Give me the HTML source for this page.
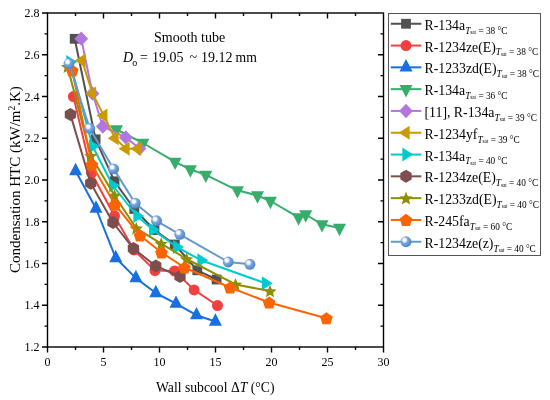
<!DOCTYPE html>
<html><head><meta charset="utf-8"><style>
html,body{margin:0;padding:0;background:#fff;}
svg{display:block;will-change:transform;}
text{font-family:"Liberation Serif",serif;fill:#000;}
</style></head><body>
<svg width="550" height="400" viewBox="0 0 550 400">
<defs>
<radialGradient id="ball" cx="0.38" cy="0.36" r="0.7" fx="0.36" fy="0.34">
<stop offset="0" stop-color="#ffffff"/>
<stop offset="0.22" stop-color="#f2f6fc"/>
<stop offset="0.42" stop-color="#7ea9dd"/>
<stop offset="0.7" stop-color="#5f93d2"/>
<stop offset="1" stop-color="#4a7fc2"/>
</radialGradient>
<clipPath id="pc"><rect x="47.5" y="13" width="336" height="334"/></clipPath>
</defs>
<rect width="550" height="400" fill="#fff"/>

<polyline points="74.70,38.80 95.60,139.30 114.50,181.30 134.30,209.00 154.40,230.00 174.80,244.50 197.30,270.30 216.60,279.50" fill="none" stroke="#515151" stroke-width="2" stroke-linejoin="round"/>
<rect x="69.80" y="33.90" width="9.8" height="9.8" fill="#515151"/><rect x="90.70" y="134.40" width="9.8" height="9.8" fill="#515151"/><rect x="109.60" y="176.40" width="9.8" height="9.8" fill="#515151"/><rect x="129.40" y="204.10" width="9.8" height="9.8" fill="#515151"/><rect x="149.50" y="225.10" width="9.8" height="9.8" fill="#515151"/><rect x="169.90" y="239.60" width="9.8" height="9.8" fill="#515151"/><rect x="192.40" y="265.40" width="9.8" height="9.8" fill="#515151"/><rect x="211.70" y="274.60" width="9.8" height="9.8" fill="#515151"/>
<polyline points="73.40,96.60 91.60,173.20 114.50,216.00 134.00,250.00 155.00,270.60 174.60,271.00 194.10,289.90 217.50,305.50" fill="none" stroke="#F14040" stroke-width="2" stroke-linejoin="round"/>
<circle cx="73.40" cy="96.60" r="5.5" fill="#F14040"/><circle cx="91.60" cy="173.20" r="5.5" fill="#F14040"/><circle cx="114.50" cy="216.00" r="5.5" fill="#F14040"/><circle cx="134.00" cy="250.00" r="5.5" fill="#F14040"/><circle cx="155.00" cy="270.60" r="5.5" fill="#F14040"/><circle cx="174.60" cy="271.00" r="5.5" fill="#F14040"/><circle cx="194.10" cy="289.90" r="5.5" fill="#F14040"/><circle cx="217.50" cy="305.50" r="5.5" fill="#F14040"/>
<polyline points="75.60,171.00 96.00,208.50 115.75,258.00 135.90,278.10 155.80,293.00 176.00,303.70 196.50,315.20 215.40,321.50" fill="none" stroke="#1A6FDF" stroke-width="2" stroke-linejoin="round"/>
<polygon points="75.60,162.70 82.10,175.15 69.10,175.15" fill="#1A6FDF"/><polygon points="96.00,200.20 102.50,212.65 89.50,212.65" fill="#1A6FDF"/><polygon points="115.75,249.70 122.25,262.15 109.25,262.15" fill="#1A6FDF"/><polygon points="135.90,269.80 142.40,282.25 129.40,282.25" fill="#1A6FDF"/><polygon points="155.80,284.70 162.30,297.15 149.30,297.15" fill="#1A6FDF"/><polygon points="176.00,295.40 182.50,307.85 169.50,307.85" fill="#1A6FDF"/><polygon points="196.50,306.90 203.00,319.35 190.00,319.35" fill="#1A6FDF"/><polygon points="215.40,313.20 221.90,325.65 208.90,325.65" fill="#1A6FDF"/>
<polyline points="116.50,129.50 142.90,143.00 175.10,161.80 190.40,169.50 205.80,174.80 237.40,190.30 257.50,195.50 270.40,201.00 298.60,217.40 305.70,214.50 322.00,224.30 339.50,228.00" fill="none" stroke="#37AD6B" stroke-width="2" stroke-linejoin="round"/>
<polygon points="116.50,137.80 123.00,125.35 110.00,125.35" fill="#37AD6B"/><polygon points="142.90,151.30 149.40,138.85 136.40,138.85" fill="#37AD6B"/><polygon points="175.10,170.10 181.60,157.65 168.60,157.65" fill="#37AD6B"/><polygon points="190.40,177.80 196.90,165.35 183.90,165.35" fill="#37AD6B"/><polygon points="205.80,183.10 212.30,170.65 199.30,170.65" fill="#37AD6B"/><polygon points="237.40,198.60 243.90,186.15 230.90,186.15" fill="#37AD6B"/><polygon points="257.50,203.80 264.00,191.35 251.00,191.35" fill="#37AD6B"/><polygon points="270.40,209.30 276.90,196.85 263.90,196.85" fill="#37AD6B"/><polygon points="298.60,225.70 305.10,213.25 292.10,213.25" fill="#37AD6B"/><polygon points="305.70,222.80 312.20,210.35 299.20,210.35" fill="#37AD6B"/><polygon points="322.00,232.60 328.50,220.15 315.50,220.15" fill="#37AD6B"/><polygon points="339.50,236.30 346.00,223.85 333.00,223.85" fill="#37AD6B"/>
<polyline points="81.25,38.65 92.50,93.50 102.80,126.50 125.80,137.40 139.50,148.50" fill="none" stroke="#B177DE" stroke-width="2" stroke-linejoin="round"/>
<polygon points="81.25,31.45 88.15,38.65 81.25,45.85 74.35,38.65" fill="#B177DE"/><polygon points="92.50,86.30 99.40,93.50 92.50,100.70 85.60,93.50" fill="#B177DE"/><polygon points="102.80,119.30 109.70,126.50 102.80,133.70 95.90,126.50" fill="#B177DE"/><polygon points="125.80,130.20 132.70,137.40 125.80,144.60 118.90,137.40" fill="#B177DE"/><polygon points="139.50,141.30 146.40,148.50 139.50,155.70 132.60,148.50" fill="#B177DE"/>
<polyline points="82.00,60.50 92.50,93.40 103.80,115.60 115.00,138.30 126.00,148.70 137.60,148.70" fill="none" stroke="#CC9900" stroke-width="2" stroke-linejoin="round"/>
<polygon points="74.70,60.50 85.65,53.50 85.65,67.50" fill="#CC9900"/><polygon points="85.20,93.40 96.15,86.40 96.15,100.40" fill="#CC9900"/><polygon points="96.50,115.60 107.45,108.60 107.45,122.60" fill="#CC9900"/><polygon points="107.70,138.30 118.65,131.30 118.65,145.30" fill="#CC9900"/><polygon points="118.70,148.70 129.65,141.70 129.65,155.70" fill="#CC9900"/><polygon points="130.30,148.70 141.25,141.70 141.25,155.70" fill="#CC9900"/>
<polyline points="69.90,62.00 92.60,146.20 112.75,185.50 137.00,216.00 152.75,229.80 176.75,247.00 201.00,260.20 265.50,283.30" fill="none" stroke="#00CBCC" stroke-width="2" stroke-linejoin="round"/>
<polygon points="77.20,62.00 66.25,55.00 66.25,69.00" fill="#00CBCC"/><polygon points="99.90,146.20 88.95,139.20 88.95,153.20" fill="#00CBCC"/><polygon points="120.05,185.50 109.10,178.50 109.10,192.50" fill="#00CBCC"/><polygon points="144.30,216.00 133.35,209.00 133.35,223.00" fill="#00CBCC"/><polygon points="160.05,229.80 149.10,222.80 149.10,236.80" fill="#00CBCC"/><polygon points="184.05,247.00 173.10,240.00 173.10,254.00" fill="#00CBCC"/><polygon points="208.30,260.20 197.35,253.20 197.35,267.20" fill="#00CBCC"/><polygon points="272.80,283.30 261.85,276.30 261.85,290.30" fill="#00CBCC"/>
<polyline points="70.40,114.40 90.75,183.30 113.00,222.50 133.40,248.60 155.80,266.00 180.00,276.50" fill="none" stroke="#7D4E4E" stroke-width="2" stroke-linejoin="round"/>
<polygon points="70.40,107.90 76.03,111.15 76.03,117.65 70.40,120.90 64.77,117.65 64.77,111.15" fill="#7D4E4E"/><polygon points="90.75,176.80 96.38,180.05 96.38,186.55 90.75,189.80 85.12,186.55 85.12,180.05" fill="#7D4E4E"/><polygon points="113.00,216.00 118.63,219.25 118.63,225.75 113.00,229.00 107.37,225.75 107.37,219.25" fill="#7D4E4E"/><polygon points="133.40,242.10 139.03,245.35 139.03,251.85 133.40,255.10 127.77,251.85 127.77,245.35" fill="#7D4E4E"/><polygon points="155.80,259.50 161.43,262.75 161.43,269.25 155.80,272.50 150.17,269.25 150.17,262.75" fill="#7D4E4E"/><polygon points="180.00,270.00 185.63,273.25 185.63,279.75 180.00,283.00 174.37,279.75 174.37,273.25" fill="#7D4E4E"/>
<polyline points="67.60,66.80 90.75,155.70 114.50,195.50 136.25,228.30 161.20,243.60 186.60,259.00 235.50,284.40 270.00,291.10" fill="none" stroke="#8E8E00" stroke-width="2" stroke-linejoin="round"/>
<polygon points="67.60,60.40 69.45,64.85 74.26,65.24 70.60,68.37 71.71,73.06 67.60,70.55 63.49,73.06 64.60,68.37 60.94,65.24 65.75,64.85" fill="#8E8E00"/><polygon points="90.75,149.30 92.60,153.75 97.41,154.14 93.75,157.27 94.86,161.96 90.75,159.45 86.64,161.96 87.75,157.27 84.09,154.14 88.90,153.75" fill="#8E8E00"/><polygon points="114.50,189.10 116.35,193.55 121.16,193.94 117.50,197.07 118.61,201.76 114.50,199.25 110.39,201.76 111.50,197.07 107.84,193.94 112.65,193.55" fill="#8E8E00"/><polygon points="136.25,221.90 138.10,226.35 142.91,226.74 139.25,229.87 140.36,234.56 136.25,232.05 132.14,234.56 133.25,229.87 129.59,226.74 134.40,226.35" fill="#8E8E00"/><polygon points="161.20,237.20 163.05,241.65 167.86,242.04 164.20,245.17 165.31,249.86 161.20,247.35 157.09,249.86 158.20,245.17 154.54,242.04 159.35,241.65" fill="#8E8E00"/><polygon points="186.60,252.60 188.45,257.05 193.26,257.44 189.60,260.57 190.71,265.26 186.60,262.75 182.49,265.26 183.60,260.57 179.94,257.44 184.75,257.05" fill="#8E8E00"/><polygon points="235.50,278.00 237.35,282.45 242.16,282.84 238.50,285.97 239.61,290.66 235.50,288.15 231.39,290.66 232.50,285.97 228.84,282.84 233.65,282.45" fill="#8E8E00"/><polygon points="270.00,284.70 271.85,289.15 276.66,289.54 273.00,292.67 274.11,297.36 270.00,294.85 265.89,297.36 267.00,292.67 263.34,289.54 268.15,289.15" fill="#8E8E00"/>
<polyline points="72.20,70.50 91.90,164.70 115.00,204.70 140.00,235.50 161.50,252.50 184.50,267.50 230.10,287.50 269.10,302.50 326.40,318.30" fill="none" stroke="#FB6501" stroke-width="2" stroke-linejoin="round"/>
<polygon points="72.20,64.40 78.57,69.03 76.14,76.52 68.26,76.52 65.83,69.03" fill="#FB6501"/><polygon points="91.90,158.60 98.27,163.23 95.84,170.72 87.96,170.72 85.53,163.23" fill="#FB6501"/><polygon points="115.00,198.60 121.37,203.23 118.94,210.72 111.06,210.72 108.63,203.23" fill="#FB6501"/><polygon points="140.00,229.40 146.37,234.03 143.94,241.52 136.06,241.52 133.63,234.03" fill="#FB6501"/><polygon points="161.50,246.40 167.87,251.03 165.44,258.52 157.56,258.52 155.13,251.03" fill="#FB6501"/><polygon points="184.50,261.40 190.87,266.03 188.44,273.52 180.56,273.52 178.13,266.03" fill="#FB6501"/><polygon points="230.10,281.40 236.47,286.03 234.04,293.52 226.16,293.52 223.73,286.03" fill="#FB6501"/><polygon points="269.10,296.40 275.47,301.03 273.04,308.52 265.16,308.52 262.73,301.03" fill="#FB6501"/><polygon points="326.40,312.20 332.77,316.83 330.34,324.32 322.46,324.32 320.03,316.83" fill="#FB6501"/>
<polyline points="69.00,63.50 89.65,128.40 113.60,168.90 135.20,203.20 156.50,220.80 179.75,234.30 228.20,262.00 249.90,264.30" fill="none" stroke="#6699CC" stroke-width="2" stroke-linejoin="round"/>
<circle cx="69.00" cy="63.50" r="5.45" fill="url(#ball)"/><circle cx="89.65" cy="128.40" r="5.45" fill="url(#ball)"/><circle cx="113.60" cy="168.90" r="5.45" fill="url(#ball)"/><circle cx="135.20" cy="203.20" r="5.45" fill="url(#ball)"/><circle cx="156.50" cy="220.80" r="5.45" fill="url(#ball)"/><circle cx="179.75" cy="234.30" r="5.45" fill="url(#ball)"/><circle cx="228.20" cy="262.00" r="5.45" fill="url(#ball)"/><circle cx="249.90" cy="264.30" r="5.45" fill="url(#ball)"/>
<rect x="47.5" y="13" width="336.0" height="334" fill="none" stroke="#000" stroke-width="1.4"/>
<path d="M47.50,347v5.5M75.50,347v3M75.50,13v3M103.50,347v5.5M103.50,13v5.5M131.50,347v3M131.50,13v3M159.50,347v5.5M159.50,13v5.5M187.50,347v3M187.50,13v3M215.50,347v5.5M215.50,13v5.5M243.50,347v3M243.50,13v3M271.50,347v5.5M271.50,13v5.5M299.50,347v3M299.50,13v3M327.50,347v5.5M327.50,13v5.5M355.50,347v3M355.50,13v3M383.50,347v5.5M47.5,347.00h-5.5M47.5,326.12h-3M383.5,326.12h-3M47.5,305.25h-5.5M383.5,305.25h-5.5M47.5,284.38h-3M383.5,284.38h-3M47.5,263.50h-5.5M383.5,263.50h-5.5M47.5,242.62h-3M383.5,242.62h-3M47.5,221.75h-5.5M383.5,221.75h-5.5M47.5,200.88h-3M383.5,200.88h-3M47.5,180.00h-5.5M383.5,180.00h-5.5M47.5,159.12h-3M383.5,159.12h-3M47.5,138.25h-5.5M383.5,138.25h-5.5M47.5,117.38h-3M383.5,117.38h-3M47.5,96.50h-5.5M383.5,96.50h-5.5M47.5,75.62h-3M383.5,75.62h-3M47.5,54.75h-5.5M383.5,54.75h-5.5M47.5,33.88h-3M383.5,33.88h-3M47.5,13.00h-5.5" stroke="#000" stroke-width="1.4" fill="none"/>
<text x="47.50" y="366" font-size="12" text-anchor="middle">0</text>
<text x="103.50" y="366" font-size="12" text-anchor="middle">5</text>
<text x="159.50" y="366" font-size="12" text-anchor="middle">10</text>
<text x="215.50" y="366" font-size="12" text-anchor="middle">15</text>
<text x="271.50" y="366" font-size="12" text-anchor="middle">20</text>
<text x="327.50" y="366" font-size="12" text-anchor="middle">25</text>
<text x="383.50" y="366" font-size="12" text-anchor="middle">30</text>
<text x="39.5" y="351.20" font-size="12" text-anchor="end">1.2</text>
<text x="39.5" y="309.45" font-size="12" text-anchor="end">1.4</text>
<text x="39.5" y="267.70" font-size="12" text-anchor="end">1.6</text>
<text x="39.5" y="225.95" font-size="12" text-anchor="end">1.8</text>
<text x="39.5" y="184.20" font-size="12" text-anchor="end">2.0</text>
<text x="39.5" y="142.45" font-size="12" text-anchor="end">2.2</text>
<text x="39.5" y="100.70" font-size="12" text-anchor="end">2.4</text>
<text x="39.5" y="58.95" font-size="12" text-anchor="end">2.6</text>
<text x="39.5" y="17.20" font-size="12" text-anchor="end">2.8</text>
<text x="156" y="392" font-size="13.7">Wall subcool &#916;<tspan font-style="italic">T</tspan> (&#176;C)</text>
<text transform="translate(20.3,273) rotate(-90)" font-size="15">Condensation HTC (kW/m<tspan font-size="9.5" dy="-5.5">2</tspan><tspan dy="5.5">.K)</tspan></text>
<text x="154" y="41.5" font-size="14">Smooth tube</text>
<text x="123" y="62" font-size="14" font-style="italic">D</text><text x="132.3" y="66.3" font-size="10">o</text><text x="139.9" y="62" font-size="14">=</text><text x="151.9" y="62" font-size="14">19.05</text><text x="189.5" y="62" font-size="14">~</text><text x="200.9" y="62" font-size="14">19.12</text><text x="235.5" y="62" font-size="13.7">mm</text>
<rect x="388.5" y="13.5" width="152.0" height="242.0" fill="#fff" stroke="#555" stroke-width="1"/>
<line x1="390.8" y1="23.75" x2="421.3" y2="23.75" stroke="#515151" stroke-width="2"/>
<rect x="401.10" y="18.85" width="9.8" height="9.8" fill="#515151"/>
<text x="424.5" y="29.75" font-size="13.8">R-134a<tspan font-size="9.3" dy="3.8" font-style="italic">T</tspan><tspan font-size="5.2" dy="0.5">sat</tspan><tspan font-size="9.3" dy="-0.5"> = 38 &#176;C</tspan></text>
<line x1="390.8" y1="45.55" x2="421.3" y2="45.55" stroke="#F14040" stroke-width="2"/>
<circle cx="406.00" cy="45.55" r="5.5" fill="#F14040"/>
<text x="424.5" y="51.55" font-size="13.8">R-1234ze(E)<tspan font-size="9.3" dy="3.8" font-style="italic">T</tspan><tspan font-size="5.2" dy="0.5">sat</tspan><tspan font-size="9.3" dy="-0.5"> = 38 &#176;C</tspan></text>
<line x1="390.8" y1="67.35" x2="421.3" y2="67.35" stroke="#1A6FDF" stroke-width="2"/>
<polygon points="406.00,59.05 412.50,71.50 399.50,71.50" fill="#1A6FDF"/>
<text x="424.5" y="73.35" font-size="13.8">R-1233zd(E)<tspan font-size="9.3" dy="3.8" font-style="italic">T</tspan><tspan font-size="5.2" dy="0.5">sat</tspan><tspan font-size="9.3" dy="-0.5"> = 38 &#176;C</tspan></text>
<line x1="390.8" y1="89.15" x2="421.3" y2="89.15" stroke="#37AD6B" stroke-width="2"/>
<polygon points="406.00,97.45 412.50,85.00 399.50,85.00" fill="#37AD6B"/>
<text x="424.5" y="95.15" font-size="13.8">R-134a<tspan font-size="9.3" dy="3.8" font-style="italic">T</tspan><tspan font-size="5.2" dy="0.5">sat</tspan><tspan font-size="9.3" dy="-0.5"> = 36 &#176;C</tspan></text>
<line x1="390.8" y1="110.95" x2="421.3" y2="110.95" stroke="#B177DE" stroke-width="2"/>
<polygon points="406.00,103.75 412.90,110.95 406.00,118.15 399.10,110.95" fill="#B177DE"/>
<text x="424.5" y="116.95" font-size="13.8">[11], R-134a<tspan font-size="9.3" dy="3.8" font-style="italic">T</tspan><tspan font-size="5.2" dy="0.5">sat</tspan><tspan font-size="9.3" dy="-0.5"> = 39 &#176;C</tspan></text>
<line x1="390.8" y1="132.75" x2="421.3" y2="132.75" stroke="#CC9900" stroke-width="2"/>
<polygon points="398.70,132.75 409.65,125.75 409.65,139.75" fill="#CC9900"/>
<text x="424.5" y="138.75" font-size="13.8">R-1234yf<tspan font-size="9.3" dy="3.8" font-style="italic">T</tspan><tspan font-size="5.2" dy="0.5">sat</tspan><tspan font-size="9.3" dy="-0.5"> = 39 &#176;C</tspan></text>
<line x1="390.8" y1="154.55" x2="421.3" y2="154.55" stroke="#00CBCC" stroke-width="2"/>
<polygon points="413.30,154.55 402.35,147.55 402.35,161.55" fill="#00CBCC"/>
<text x="424.5" y="160.55" font-size="13.8">R-134a<tspan font-size="9.3" dy="3.8" font-style="italic">T</tspan><tspan font-size="5.2" dy="0.5">sat</tspan><tspan font-size="9.3" dy="-0.5"> = 40 &#176;C</tspan></text>
<line x1="390.8" y1="176.35" x2="421.3" y2="176.35" stroke="#7D4E4E" stroke-width="2"/>
<polygon points="406.00,169.85 411.63,173.10 411.63,179.60 406.00,182.85 400.37,179.60 400.37,173.10" fill="#7D4E4E"/>
<text x="424.5" y="182.35" font-size="13.8">R-1234ze(E)<tspan font-size="9.3" dy="3.8" font-style="italic">T</tspan><tspan font-size="5.2" dy="0.5">sat</tspan><tspan font-size="9.3" dy="-0.5"> = 40 &#176;C</tspan></text>
<line x1="390.8" y1="198.15" x2="421.3" y2="198.15" stroke="#8E8E00" stroke-width="2"/>
<polygon points="406.00,191.75 407.85,196.20 412.66,196.59 409.00,199.72 410.11,204.41 406.00,201.90 401.89,204.41 403.00,199.72 399.34,196.59 404.15,196.20" fill="#8E8E00"/>
<text x="424.5" y="204.15" font-size="13.8">R-1233zd(E)<tspan font-size="9.3" dy="3.8" font-style="italic">T</tspan><tspan font-size="5.2" dy="0.5">sat</tspan><tspan font-size="9.3" dy="-0.5"> = 40 &#176;C</tspan></text>
<line x1="390.8" y1="219.95" x2="421.3" y2="219.95" stroke="#FB6501" stroke-width="2"/>
<polygon points="406.00,213.85 412.37,218.48 409.94,225.97 402.06,225.97 399.63,218.48" fill="#FB6501"/>
<text x="424.5" y="225.95" font-size="13.8">R-245fa<tspan font-size="9.3" dy="3.8" font-style="italic">T</tspan><tspan font-size="5.2" dy="0.5">sat</tspan><tspan font-size="9.3" dy="-0.5"> = 60 &#176;C</tspan></text>
<line x1="390.8" y1="241.75" x2="421.3" y2="241.75" stroke="#6699CC" stroke-width="2"/>
<circle cx="406.00" cy="241.75" r="5.45" fill="url(#ball)"/>
<text x="424.5" y="247.75" font-size="13.8">R-1234ze(z)<tspan font-size="9.3" dy="3.8" font-style="italic">T</tspan><tspan font-size="5.2" dy="0.5">sat</tspan><tspan font-size="9.3" dy="-0.5"> = 40 &#176;C</tspan></text>
</svg></body></html>
